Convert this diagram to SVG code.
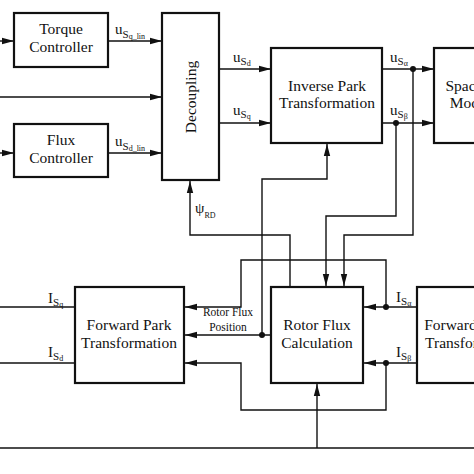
<svg xmlns="http://www.w3.org/2000/svg" width="474" height="474" viewBox="0 0 474 474" font-family="'Liberation Serif', 'Times New Roman', serif">
<defs>
<marker id="ah" markerUnits="userSpaceOnUse" markerWidth="12" markerHeight="8" refX="12" refY="4" orient="auto">
<path d="M0,0.8 L12,4 L0,7.2 Z" fill="#111"/>
</marker>
<style>
text{font-family:'Liberation Serif','Times New Roman',serif;fill:#111}
.box{fill:#fff;stroke:#111;stroke-width:2.2}
.t{font-size:15.5px;text-anchor:middle}
.l{font-size:15px}
.s{font-size:11px}
.ss{font-size:8px}
.c{fill:none;stroke:#111;stroke-width:1.4}
.a{marker-end:url(#ah)}
.dot{fill:#111}
</style>
</defs>
<rect width="474" height="474" fill="#fff"/>
<g id="connectors">
<path class="c a" d="M0,41 H14"/>
<path class="c a" d="M0,97 H162"/>
<path class="c a" d="M0,153 H14"/>
<path class="c a" d="M108,41 H162"/>
<path class="c a" d="M108,153 H162"/>
<path class="c a" d="M219,69 H271"/>
<path class="c a" d="M219,123 H271"/>
<path class="c a" d="M382,69 H434"/>
<path class="c a" d="M382,123 H434"/>
<path class="c a" d="M262,335 V179 H327 V144"/>
<path class="c a" d="M396,123 V216 H326 V286"/>
<path class="c a" d="M413,69 V235 H344 V286"/>
<path class="c a" d="M290,287 V235 H190 V181"/>
<path class="c a" d="M386,307 V260 H241 V307 H185"/>
<path class="c a" d="M271,335 H185"/>
<path class="c a" d="M386,363 V410 H241 V363 H185"/>
<path class="c a" d="M417,307 H364"/>
<path class="c a" d="M417,363 H364"/>
<path class="c" d="M75,307 H0"/>
<path class="c" d="M75,363 H0"/>
<path class="c" d="M0,448 H474"/>
<path class="c a" d="M317,448 V384"/>
<circle class="dot" cx="413" cy="69" r="3"/>
<circle class="dot" cx="396" cy="123" r="3"/>
<circle class="dot" cx="262" cy="335" r="3"/>
<circle class="dot" cx="386" cy="307" r="3"/>
<circle class="dot" cx="386" cy="363" r="3"/>
<text class="l" x="115" y="34">u<tspan class="s" dy="4">S</tspan><tspan class="ss" dy="1">q_lin</tspan></text>
<text class="l" x="115" y="146">u<tspan class="s" dy="4">S</tspan><tspan class="ss" dy="1">d_lin</tspan></text>
<text class="l" x="233" y="62">u<tspan class="s" dy="3">S</tspan><tspan class="ss" dy="1">d</tspan></text>
<text class="l" x="233" y="115">u<tspan class="s" dy="3">S</tspan><tspan class="ss" dy="1">q</tspan></text>
<text class="l" x="390" y="62">u<tspan class="s" dy="3">S</tspan><tspan class="ss" dy="1">α</tspan></text>
<text class="l" x="390" y="115">u<tspan class="s" dy="3">S</tspan><tspan class="ss" dy="1">β</tspan></text>
<text class="l" x="195" y="213">ψ<tspan class="ss" dy="5">RD</tspan></text>
<text class="l" x="48" y="303">I<tspan class="s" dy="3">S</tspan><tspan class="ss" dy="1">q</tspan></text>
<text class="l" x="48" y="357">I<tspan class="s" dy="3">S</tspan><tspan class="ss" dy="1">d</tspan></text>
<text class="l" x="396" y="302">I<tspan class="s" dy="3">S</tspan><tspan class="ss" dy="1">α</tspan></text>
<text class="l" x="396" y="357">I<tspan class="s" dy="3">S</tspan><tspan class="ss" dy="1">β</tspan></text>
<text class="t" x="228" y="316" style="font-size:11.5px">Rotor Flux</text>
<text class="t" x="228" y="331" style="font-size:11.5px">Position</text>
</g>
<g id="torque">
<rect class="box" x="14" y="13" width="94" height="54"/>
<text class="t" x="61" y="34">Torque</text>
<text class="t" x="61" y="52">Controller</text>
</g>
<g id="flux">
<rect class="box" x="14" y="124" width="94" height="53"/>
<text class="t" x="61" y="145">Flux</text>
<text class="t" x="61" y="163">Controller</text>
</g>
<g id="decoupling">
<rect class="box" x="162" y="13" width="57" height="167"/>
<text class="t" transform="translate(196,97) rotate(-90)">Decoupling</text>
</g>
<g id="inversepark">
<rect class="box" x="271" y="48" width="111" height="95"/>
<text class="t" x="327" y="91">Inverse Park</text>
<text class="t" x="327" y="108">Transformation</text>
</g>
<g id="svm">
<rect class="box" x="434" y="48" width="80" height="95"/>
<text class="t" x="486" y="91">Space Vector</text>
<text class="t" x="486" y="108">Modulation</text>
</g>
<g id="forwardpark">
<rect class="box" x="75" y="287" width="109" height="96"/>
<text class="t" x="129" y="330">Forward Park</text>
<text class="t" x="129" y="348">Transformation</text>
</g>
<g id="rotorflux">
<rect class="box" x="271" y="287" width="92" height="96"/>
<text class="t" x="317" y="330">Rotor Flux</text>
<text class="t" x="317" y="348">Calculation</text>
</g>
<g id="forwardclarke">
<rect class="box" x="417" y="287" width="100" height="96"/>
<text class="t" x="473" y="330">Forward Clarke</text>
<text class="t" x="473" y="348">Transformation</text>
</g>
</svg>
